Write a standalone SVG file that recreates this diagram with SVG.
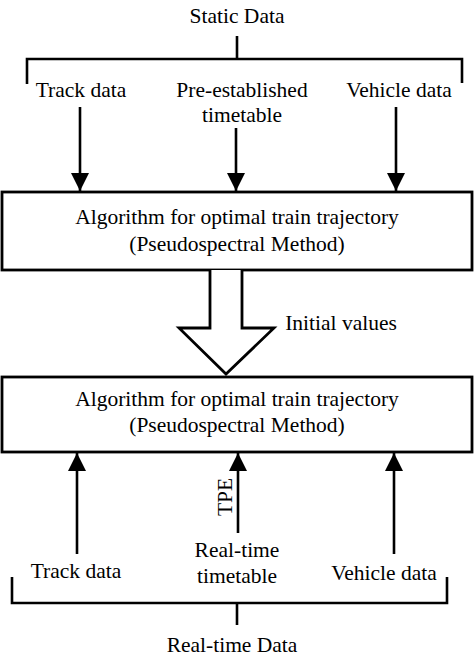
<svg xmlns="http://www.w3.org/2000/svg" width="474" height="659" viewBox="0 0 474 659">
<defs>
<style>
text{font-family:"Liberation Serif","Times New Roman",serif;font-size:21.5px;fill:#000;text-anchor:middle}
.ln{stroke:#000;stroke-width:2.6;fill:none}
.box{stroke:#000;stroke-width:2.8;fill:#fff}
</style>
<marker id="ah" markerUnits="userSpaceOnUse" markerWidth="20" markerHeight="20" viewBox="0 0 20 20" refX="18" refY="10" orient="auto">
<path d="M0,1 L18,10 L0,19 Z" fill="#000"/>
</marker>
</defs>
<rect width="474" height="659" fill="#fff"/>
<g id="static-data">
<text x="237" y="23">Static Data</text>
</g>
<g id="track-data-top"><text x="81" y="97">Track data</text></g>
<g id="pre-established"><text x="242" y="97">Pre-established</text><text x="242" y="122">timetable</text></g>
<g id="vehicle-data-top"><text x="399" y="97">Vehicle data</text></g>
<g id="algo1">
<rect class="box" x="2" y="192" width="470" height="78"/>
<text x="237" y="224">Algorithm for optimal train trajectory</text>
<text x="237" y="251">(Pseudospectral Method)</text>
</g>
<g id="algo2">
<rect class="box" x="2" y="377" width="470" height="75"/>
<text x="237" y="406">Algorithm for optimal train trajectory</text>
<text x="237" y="432">(Pseudospectral Method)</text>
</g>
<g id="initial-values"><text x="341" y="330">Initial values</text></g>
<g id="track-data-bottom"><text x="76" y="578">Track data</text></g>
<g id="real-time-timetable"><text x="237" y="557">Real-time</text><text x="237" y="583">timetable</text></g>
<g id="vehicle-data-bottom"><text x="384" y="580">Vehicle data</text></g>
<g id="real-time-data"><text x="232" y="652">Real-time Data</text></g>
<g id="connectors">
<path class="ln" d="M237,36 V59 M27,84 V59 H462 V83"/>
<path class="ln" d="M80,107 V191" marker-end="url(#ah)"/>
<path class="ln" d="M236,128 V191" marker-end="url(#ah)"/>
<path class="ln" d="M396,107 V191" marker-end="url(#ah)"/>
<path class="box" d="M210,270 V328 H179 L226,374 L274,328 H242 V270" stroke-linejoin="miter"/>
<path class="ln" d="M77,554 V453" marker-end="url(#ah)"/>
<path class="ln" d="M238,533 V453" marker-end="url(#ah)"/>
<path class="ln" d="M394,554 V453" marker-end="url(#ah)"/>
<text x="0" y="0" transform="translate(232,497) rotate(-90)">TPE</text>
<path class="ln" d="M12,577 V603 H447 V577 M237,603 V625"/>
</g>
</svg>
